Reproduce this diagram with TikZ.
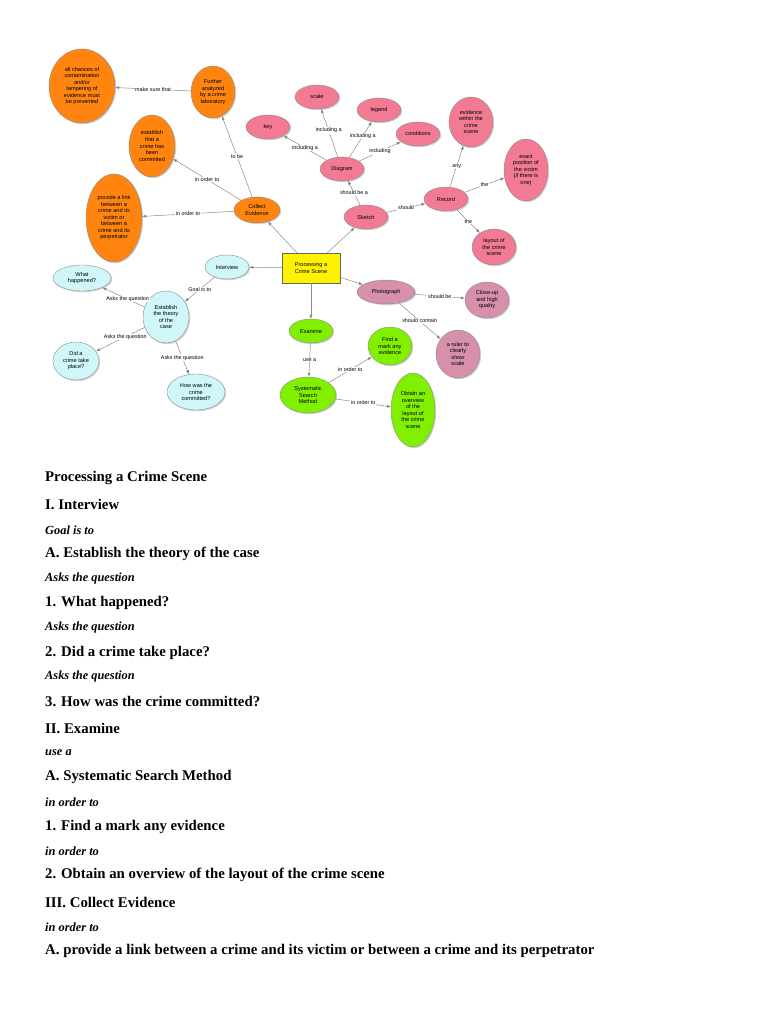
\documentclass[tikz,border=0pt]{standalone}
\usepackage{fontspec}
\setmainfont{Liberation Serif}
\newfontfamily\dsf{Liberation Sans}
\usetikzlibrary{shapes.geometric,arrows.meta,shadows}
\definecolor{cor}{HTML}{FF8410}
\definecolor{cpk}{HTML}{F27B93}
\definecolor{cmv}{HTML}{D690AC}
\definecolor{ccy}{HTML}{CFF6F8}
\definecolor{cgr}{HTML}{80F000}
\begin{document}
\begin{tikzpicture}[x=1pt,y=-1pt,
  ell/.style={ellipse,draw=black!45,line width=0.4pt,inner sep=0pt,align=center,
    font=\dsf\fontsize{5.6}{6.5}\selectfont,
    drop shadow={shadow xshift=1.2pt,shadow yshift=-1.2pt,opacity=0.35}},
  box/.style={rectangle,draw=black!60,fill=yellow,inner sep=0pt,align=center,
    font=\dsf\fontsize{5.6}{6.5}\selectfont,minimum width=58pt,minimum height=30pt,
    drop shadow={shadow xshift=1.2pt,shadow yshift=-1.2pt,opacity=0.35}},
  lab/.style={fill=white,inner sep=0.6pt,font=\dsf\fontsize{5.4}{6.3}\selectfont},
  arr/.style={draw=black!45,line width=0.5pt,-{Latex[length=4pt,width=3pt,fill=black!65]}},
  hd/.style={anchor=west,inner sep=0pt,font=\bfseries\fontsize{14.8}{17}\selectfont},
  sb/.style={anchor=west,inner sep=0pt,font=\bfseries\itshape\fontsize{12.4}{14}\selectfont}]
\useasboundingbox[fill=white] (0,0) rectangle (768,1024);
\def\E(#1,#2,#3,#4,#5,#6,#7){\node[ell,fill=#7,minimum width=#4pt,minimum height=#5pt] (#1) at (#2,#3) {#6};}
\node[box] (main) at (311,268) {Processing a\\Crime Scene};
\E(col,257,210,46,26,{Collect\\Evidence},cor)
\E(fur,213,92,44,52,{Further\\analyzed\\by a crime\\laboratory},cor)
\E(all,82,86,66,74,{all chances of\\contamination\\and/or\\tampering of\\evidence must\\be prevented},cor)
\E(est,152,146,46,62,{establish\\that a\\crime has\\been\\committed},cor)
\E(pro,114,218,56,88,{provide a link\\between a\\crime and its\\victim or\\between a\\crime and its\\perpetrator},cor)
\E(int,227,267,44,24,{Interview},ccy)
\E(wha,82,278,58,26,{What\\happened?},ccy)
\E(the,166,317,46,52,{Establish\\the theory\\of the\\case},ccy)
\E(did,76,361,46,38,{Did a\\crime take\\place?},ccy)
\E(how,196,392,58,36,{How was the\\crime\\committed?},ccy)
\E(exa,311,331,44,24,{Examine},cgr)
\E(sys,308,395,56,36,{Systematic\\Search\\Method},cgr)
\E(fin,390,346,44,38,{Find a\\mark any\\evidence},cgr)
\E(obt,413,410,44,74,{Obtain an\\overview\\of the\\layout of\\the crime\\scene},cgr)
\E(pho,386,292,58,24,{Photograph},cmv)
\E(clo,487,300,44,36,{Close-up\\and high\\quality},cmv)
\E(rul,458,354,44,48,{a ruler to\\clearly\\show\\scale},cmv)
\E(ske,366,217,44,24,{Sketch},cpk)
\E(dia,342,169,44,24,{Diagram},cpk)
\E(key,268,127,44,24,{key},cpk)
\E(sca,317,97,44,24,{scale},cpk)
\E(leg,379,110,44,24,{legend},cpk)
\E(con,418,134,44,24,{conditions},cpk)
\E(rec,446,199,44,24,{Record},cpk)
\E(evi,471,122,44,50,{evidence\\within the\\crime\\scene},cpk)
\E(exc,526,170,44,62,{exact\\position of\\the victim\\(if there is\\one)},cpk)
\E(lay,494,247,44,36,{layout of\\the crime\\scene},cpk)
\draw[arr] (main) -- (col);
\draw[arr] (main) -- (ske);
\draw[arr] (main) -- (int);
\draw[arr] (main) -- (pho);
\draw[arr] (main) -- (exa);
\draw[arr] (col) -- node[lab]{to be} (fur);
\draw[arr] (fur) -- node[lab]{make sure that} (all);
\draw[arr] (col) -- node[lab]{in order to} (est);
\draw[arr] (col) -- node[lab]{in order to} (pro);
\draw[arr] (int) -- node[lab]{Goal is to} (the);
\draw[arr] (the) -- node[lab,pos=0.4]{Asks the question} (wha);
\draw[arr] (the) -- node[lab,pos=0.4]{Asks the question} (did);
\draw[arr] (the) -- node[lab]{Asks the question} (how);
\draw[arr] (exa) -- node[lab]{use a} (sys);
\draw[arr] (sys) -- node[lab]{in order to} (fin);
\draw[arr] (sys) -- node[lab]{in order to} (obt);
\draw[arr] (pho) -- node[lab]{should be} (clo);
\draw[arr] (pho) -- node[lab]{should contain} (rul);
\draw[arr] (ske) -- node[lab]{should be a} (dia);
\draw[arr] (ske) -- node[lab]{should} (rec);
\draw[arr] (dia) -- node[lab]{including a} (key);
\draw[arr] (dia) -- node[lab,pos=0.55]{including a} (sca);
\draw[arr] (dia) -- node[lab,pos=0.6]{including a} (leg);
\draw[arr] (dia) -- node[lab]{including} (con);
\draw[arr] (rec) -- node[lab]{any} (evi);
\draw[arr] (rec) -- node[lab]{the} (exc);
\draw[arr] (rec) -- node[lab]{the} (lay);
\node[hd] (t1) at (45,478) {Processing a Crime Scene};
\node[hd] (t2) at (45,504) {I. Interview};
\node[sb] (t3) at (45,530) {Goal is to};
\node[hd] (t4) at (45,554) {A. Establish the theory of the case};
\node[sb] (t5) at (45,579) {Asks the question};
\node[hd] (t6) at (45,603) {1. What happened?};
\node[sb] (t7) at (45,628) {Asks the question};
\node[hd] (t8) at (45,653) {2. Did a crime take place?};
\node[sb] (t9) at (45,677) {Asks the question};
\node[hd] (t10) at (45,701) {3. How was the crime committed?};
\node[hd] (t11) at (45,728) {II. Examine};
\node[sb] (t12) at (45,753) {use a};
\node[hd] (t13) at (45,777) {A. Systematic Search Method};
\node[sb] (t14) at (45,802) {in order to};
\node[hd] (t15) at (45,827) {1. Find a mark any evidence};
\node[sb] (t16) at (45,851) {in order to};
\node[hd] (t17) at (45,875) {2. Obtain an overview of the layout of the crime scene};
\node[hd] (t18) at (45,902) {III. Collect Evidence};
\node[sb] (t19) at (45,927) {in order to};
\node[hd] (t20) at (45,951) {A. provide a link between a crime and its victim or between a crime and its perpetrator};
\end{tikzpicture}
\end{document}
